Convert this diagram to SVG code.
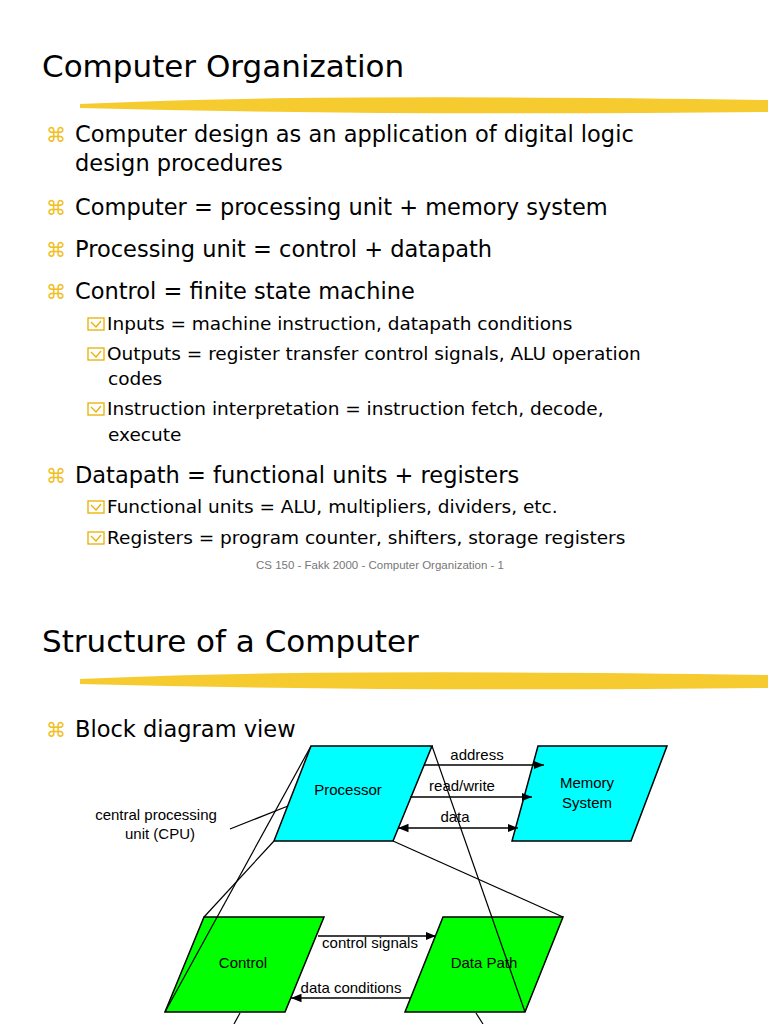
<svg xmlns="http://www.w3.org/2000/svg" width="768" height="1024" viewBox="0 0 768 1024">
<style>
.t{font-family:"DejaVu Sans",sans-serif;fill:#000}
.h{font-size:31px}
.b{font-size:22.5px}
.s{font-size:18.5px}
.k{font-family:"DejaVu Sans",sans-serif;font-size:20px;fill:#f0c020}
.d{font-family:"Liberation Sans",Arial,sans-serif;font-size:15px;fill:#000}
.ln{stroke:#000;stroke-width:1.2;fill:none}
.ar{stroke:#000;stroke-width:1.5;fill:none}
.cy{fill:#00ffff;stroke:#000;stroke-width:1.5}
.gr{fill:#00ff00;stroke:#000;stroke-width:1.5}
.ic{fill:#fff;stroke:#e8b000;stroke-width:1.3}
</style>
<defs>
<marker id="a" viewBox="0 0 10 10" refX="10" refY="5" markerWidth="7" markerHeight="7" orient="auto-start-reverse"><path d="M0,1 L10,5 L0,9 z" fill="#000"/></marker>
<g id="ico"><rect class="ic" x="0" y="-12" width="16" height="12"/><polyline points="3,-8 8,-3 13,-9" fill="none" stroke="#e8b000" stroke-width="1.3"/></g>
</defs>
<rect width="768" height="1024" fill="#fff"/>
<text class="t h" x="42" y="77">Computer Organization</text>
<path d="M80,104 Q300,93 768,100 L768,112 Q400,116 80,108 z" fill="#f5c518" opacity="0.9"/>
<text class="k" x="46" y="142">⌘</text><text class="t b" x="75" y="142">Computer design as an application of digital logic</text>
<text class="t b" x="75" y="171">design procedures</text>
<text class="k" x="46" y="215">⌘</text><text class="t b" x="75" y="215">Computer = processing unit + memory system</text>
<text class="k" x="46" y="257">⌘</text><text class="t b" x="75" y="257">Processing unit = control + datapath</text>
<text class="k" x="46" y="299">⌘</text><text class="t b" x="75" y="299">Control = finite state machine</text>
<use href="#ico" x="88" y="330"/><text class="t s" x="107" y="330">Inputs = machine instruction, datapath conditions</text>
<use href="#ico" x="88" y="360"/><text class="t s" x="107" y="360">Outputs = register transfer control signals, ALU operation</text>
<text class="t s" x="108" y="385">codes</text>
<use href="#ico" x="88" y="415"/><text class="t s" x="107" y="415">Instruction interpretation = instruction fetch, decode,</text>
<text class="t s" x="108" y="441">execute</text>
<text class="k" x="46" y="483">⌘</text><text class="t b" x="75" y="483">Datapath = functional units + registers</text>
<use href="#ico" x="88" y="513"/><text class="t s" x="107" y="513">Functional units = ALU, multipliers, dividers, etc.</text>
<use href="#ico" x="88" y="544"/><text class="t s" x="107" y="544">Registers = program counter, shifters, storage registers</text>
<text x="380" y="569" text-anchor="middle" font-family="Liberation Sans,Arial,sans-serif" font-size="11.5" fill="#777">CS 150 - Fakk 2000 - Computer Organization - 1</text>
<text class="t h" x="42" y="652">Structure of a Computer</text>
<path d="M80,679 Q300,668 768,675 L768,688 Q400,692 80,684 z" fill="#f5c518" opacity="0.9"/>
<text class="k" x="46" y="737">⌘</text><text class="t b" x="75" y="737">Block diagram view</text>
<g id="nodes">
<g id="processor"><polygon class="cy" points="311,746 432,746 393,841 274,841"/><text class="d" x="348" y="795" text-anchor="middle">Processor</text></g>
<g id="memory"><polygon class="cy" points="538,746 667,746 631,841 512,841"/><text class="d" x="587" y="788" text-anchor="middle">Memory</text><text class="d" x="587" y="808" text-anchor="middle">System</text></g>
<g id="control"><polygon class="gr" points="204,917 324,917 285,1012 165,1012"/><text class="d" x="243" y="968" text-anchor="middle">Control</text></g>
<g id="datapath"><polygon class="gr" points="443,917 563,917 525,1012 405,1012"/><text class="d" x="484" y="968" text-anchor="middle">Data Path</text></g>
</g>
<g id="connectors">
<line class="ln" x1="311" y1="746" x2="165" y2="1012"/>
<line class="ln" x1="274" y1="841" x2="204" y2="917"/>
<line class="ln" x1="432" y1="746" x2="525" y2="1012"/>
<line class="ln" x1="393" y1="841" x2="563" y2="917"/>
<line class="ln" x1="240" y1="1013" x2="234" y2="1024"/>
<line class="ln" x1="476" y1="1013" x2="483" y2="1024"/>
<line class="ln" x1="230" y1="829" x2="288" y2="806"/>
<line class="ar" x1="424" y1="765" x2="544" y2="765" marker-end="url(#a)"/>
<line class="ar" x1="410" y1="797" x2="532" y2="797" marker-end="url(#a)"/>
<line class="ar" x1="398" y1="828" x2="518" y2="828" marker-start="url(#a)" marker-end="url(#a)"/>
<line class="ar" x1="318" y1="936" x2="436" y2="936" marker-end="url(#a)"/>
<line class="ar" x1="410" y1="998" x2="291" y2="998" marker-end="url(#a)"/>
</g>
<text class="d" x="477" y="760" text-anchor="middle">address</text>
<text class="d" x="462" y="791" text-anchor="middle">read/write</text>
<text class="d" x="455" y="822" text-anchor="middle">data</text>
<text class="d" x="370" y="948" text-anchor="middle">control signals</text>
<text class="d" x="351" y="993" text-anchor="middle">data conditions</text>
<text class="d" x="156" y="820" text-anchor="middle">central processing</text>
<text class="d" x="160" y="839" text-anchor="middle">unit (CPU)</text>
</svg>
